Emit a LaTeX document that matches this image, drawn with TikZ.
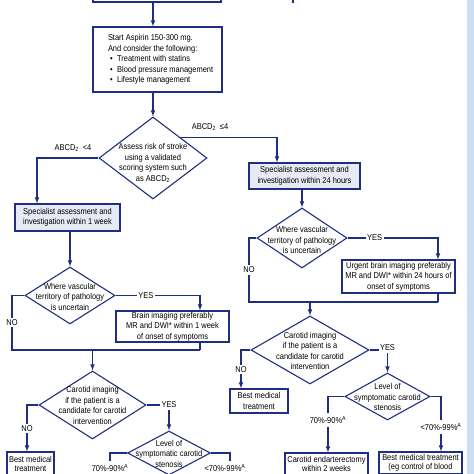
\documentclass[tikz,border=0pt]{standalone}
\usepackage{fontspec}
\setmainfont{Liberation Sans}[FakeStretch=0.88]
\usepackage{tikz}
\usetikzlibrary{shapes,arrows,positioning}
\definecolor{navy}{RGB}{30,46,128}
\definecolor{boxfill}{RGB}{229,234,244}
\definecolor{rimblue}{RGB}{205,222,242}

\begin{document}
\begin{tikzpicture}[x=1pt, y=-1pt,  font=\fontsize{8.5}{10.5}\selectfont,  line width=1.1pt,  box/.style={draw=navy, rectangle, align=center, inner sep=0pt},  shaded/.style={box, fill=boxfill},  dia/.style={draw=navy, diamond, inner sep=0pt},  dtext/.style={align=center, inner sep=0pt},  lab/.style={fill=white, inner sep=1.5pt},  link/.style={draw=navy, -latex},  wire/.style={draw=navy},  ]

  \useasboundingbox (0,0) rectangle (474,474);
  \clip (0,0) rectangle (474,474);
  \fill[rimblue] (467,0) rectangle (474,474);

  % top of the chart
  \node[box, minimum width=128pt, minimum height=30pt] (top) at (157,-13) {};
  \coordinate (tick) at (293,-6);
  \coordinate (tickend) at (293,3);
  \draw[wire] (tick) -- (tickend);

  \node[box, minimum width=129pt, minimum height=65pt] (asp) at (157.5,59.5) {};
  \node[dtext, align=left, anchor=west] (asptxt) at ([xshift=15pt]asp.west)
    {Start Aspirin 150-300 mg.\\
     And consider the following:\\
     \hspace*{2pt}\textbullet\hspace{4.5pt}Treatment with statins\\
     \hspace*{2pt}\textbullet\hspace{4.5pt}Blood pressure management\\
     \hspace*{2pt}\textbullet\hspace{4.5pt}Lifestyle management};

  \node[dia, minimum width=108pt, minimum height=82pt] (assess) at (153,158) {};
  \node[dtext] (assesstxt) at ([yshift=-5pt]assess.center)
    {Assess risk of stroke\\using a validated\\scoring system such\\as ABCD\textsubscript{2}};

  \draw[link] (top.south -| assess.north) -- (asp.north -| assess.north);
  \draw[link] (asp.south -| assess.north) -- (assess.north);

  % ABCD2 < 4
  \node[shaded, minimum width=105pt, minimum height=27pt] (spec1) at (67.5,217.5)
    {Specialist assessment and\\investigation within 1 week};
  \node (ablo) at (73,148) {ABCD\textsubscript{2}\hspace{4pt}<4};
  \draw[link] (assess.west) -| ([xshift=-30.5pt]spec1.north);

  \node[dia, minimum width=90pt, minimum height=57pt] (terr1) at (70,295.5) {};
  \node[dtext] (terr1txt) at ([yshift=-1pt]terr1.center)
    {Where vascular\\territory of pathology\\is uncertain};
  \draw[link] (spec1.south -| terr1.north) -- (terr1.north);

  \node[box, minimum width=113pt, minimum height=31pt] (brain1) at (172.5,326.5)
    {Brain imaging preferably\\MR and DWI* within 1 week\\of onset of symptoms};
  \draw[link] (terr1.east) -| ([xshift=27.5pt]brain1.north) node[lab, pos=0.18] (yes1) {YES};

  \coordinate (join1) at (200,350);
  \coordinate (nocorner1) at (12,350);
  \draw[wire] (terr1.west) -| (nocorner1) node[lab, pos=0.75] (no1) {NO} -- (join1);
  \draw[wire] (brain1.south -| join1) -- (join1);

  \node[dia, minimum width=107pt, minimum height=68pt] (carot1) at (92.5,405) {};
  \node[dtext] (carot1txt) at ([yshift=-0.5pt]carot1.center)
    {Carotid imaging\\if the patient is a\\candidate for carotid\\intervention};
  \draw[link] (join1 -| carot1.north) -- (carot1.north);

  \node[box, minimum width=47pt, minimum height=24pt] (best1) at (30.5,464) {Best medical\\[-1pt]treatment};
  \draw[link] (carot1.west) -| ([xshift=-3.5pt]best1.north) node[lab, pos=0.75] (no2) {NO};

  \node[dia, minimum width=83pt, minimum height=44pt] (level1) at (169,453) {};
  \node[dtext] (level1txt) at ([yshift=-0.5pt]level1.center)
    {Level of\\symptomatic carotid\\stenosis};
  \draw[link] (carot1.east) -| node[lab] (yes2) {YES} (level1.north);

  \node (pct1) at (110,468) {70\%-90\%\textsuperscript{A}};
  \node (pct2) at (225,468) {<70\%-99\%\textsuperscript{A}};
  \draw[wire] (level1.west) -| (pct1.north);
  \draw[wire] (level1.east) -| ([xshift=5pt]pct2.north);

  % ABCD2 >= 4
  \node[shaded, minimum width=111pt, minimum height=26pt] (spec2) at (304.5,176)
    {Specialist assessment and\\investigation within 24 hours};
  \node (abhi) at (210,127) {ABCD\textsubscript{2}\hspace{4pt}≤4};
  \draw[link] (assess.north east) -| ([xshift=-27.5pt]spec2.north);

  \node[dia, minimum width=90pt, minimum height=60pt] (terr2) at (302,238) {};
  \node[dtext] (terr2txt) at ([yshift=-2pt]terr2.center)
    {Where vascular\\territory of pathology\\is uncertain};
  \draw[link] (spec2.south -| terr2.north) -- (terr2.north);

  \node[box, minimum width=113pt, minimum height=33pt] (brain2) at (398.5,276.5)
    {Urgent brain imaging preferably\\MR and DWI* within 24 hours of\\onset of symptoms};
  \draw[link] (terr2.east) -| ([xshift=39.5pt]brain2.north) node[lab, pos=0.15] (yes3) {YES};

  \coordinate (join2) at (438,302);
  \coordinate (nocorner2) at (249,302);
  \draw[wire] (terr2.west) -| (nocorner2) node[lab, pos=0.75] (no3) {NO} -- (join2);
  \draw[wire] (brain2.south -| join2) -- (join2);

  \node[dia, minimum width=118pt, minimum height=68pt] (carot2) at (310,350) {};
  \node[dtext] (carot2txt) at ([yshift=-1pt]carot2.center)
    {Carotid imaging\\if the patient is a\\candidate for carotid\\intervention};
  \draw[link] (join2 -| carot2.north) -- (carot2.north);

  \node[box, minimum width=58pt, minimum height=24pt] (best2) at (259,401) {Best medical\\treatment};
  \draw[link] (carot2.west) -| ([xshift=-18pt]best2.north) node[lab, pos=0.75] (no4) {NO};

  \node[dia, minimum width=85pt, minimum height=47pt] (level2) at (387.5,396.5) {};
  \node[dtext] (level2txt) at ([yshift=-0.5pt]level2.center)
    {Level of\\symptomatic carotid\\stenosis};
  \draw[link] (carot2.east) -| node[lab, yshift=2pt] (yes4) {YES} (level2.north);

  \node (pct3) at (328,420) {70\%-90\%\textsuperscript{A}};
  \node (pct4) at (441,427) {<70\%-99\%\textsuperscript{A}};
  \draw[wire] (level2.west) -| (pct3.north);
  \draw[wire] (level2.east) -| (pct4.north);

  \node[box, minimum width=83pt, minimum height=22pt] (endart) at (326.5,464)
    {Carotid endarterectomy\\[-1.5pt]within 2 weeks};
  \node[box, minimum width=83pt, minimum height=22pt] (bestbp) at (420.5,463)
    {Best medical treatment\\[-1.5pt](eg control of blood};
  \draw[link] (pct3.south) -- (pct3.south |- endart.north);
  \draw[link] (pct4.south) -- (pct4.south |- bestbp.north);
\end{tikzpicture}
\end{document}
